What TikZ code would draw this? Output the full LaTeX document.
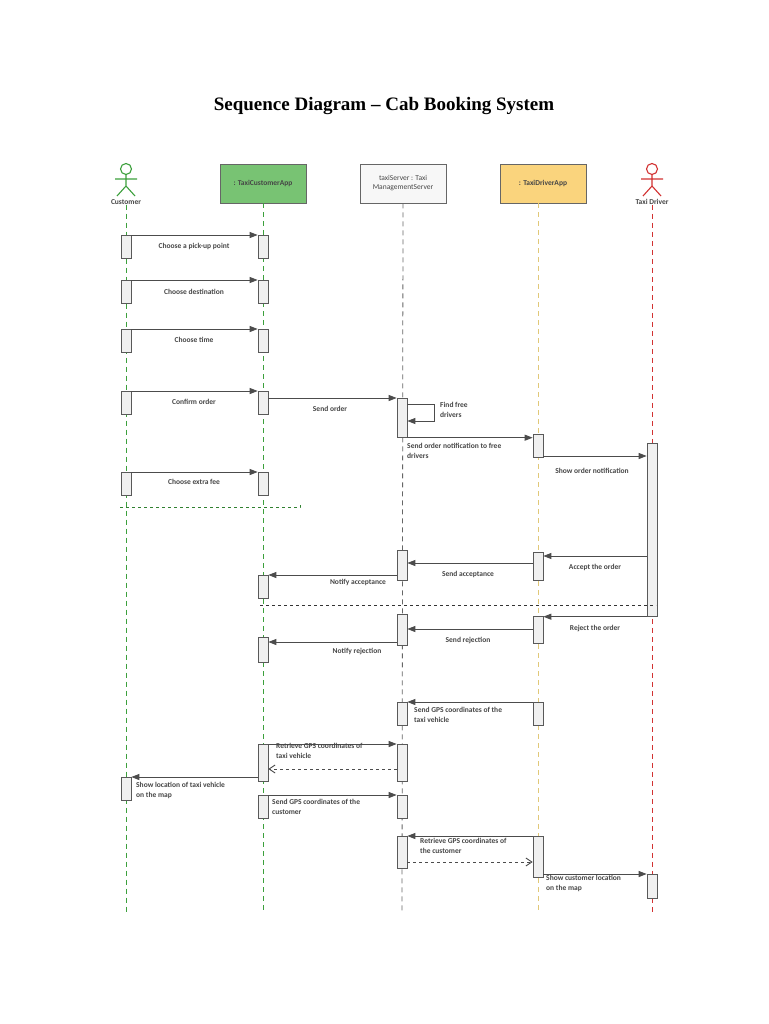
\documentclass[tikz,border=0pt]{standalone}
\usepackage{fontspec}
\setmainfont{Carlito}
\newfontfamily\titlefont{Liberation Serif}
\usetikzlibrary{arrows.meta}
\definecolor{cgreen}{RGB}{60,160,60}
\definecolor{cred}{RGB}{210,50,50}
\definecolor{cyel}{RGB}{225,200,120}
\definecolor{boxgreen}{RGB}{120,195,115}
\definecolor{boxyel}{RGB}{250,212,125}
\definecolor{txt}{RGB}{70,70,70}
\tikzset{
  act/.style={draw=black!65,fill=black!6,line width=0.7pt,minimum width=10pt,inner sep=0pt,anchor=north},
  head/.style={draw=black!60,line width=0.8pt,minimum width=86pt,minimum height=39pt,align=center,font=\fontsize{7.5}{9}\selectfont,text=txt},
  life/.style={line width=0.8pt,dash pattern=on 5pt off 4pt},
  msg/.style={draw=black!70,line width=0.9pt,-{Triangle[length=8pt,width=6pt]}},
  ret/.style={draw=black!70,line width=0.9pt,dashed,-{Straight Barb[length=6pt,width=8pt]}},
  lbl/.style={font=\bfseries\fontsize{7.5}{10}\selectfont,text=txt,inner sep=0pt,align=left},
  actor/.style={line width=1.1pt}
}
\newcommand{\act}[4]{\node[act,minimum height={(#4-#3)*1pt}] (#1) at (#2,#3) {};}
\begin{document}
\begin{tikzpicture}[x=1pt,y=-1pt]
\useasboundingbox (0,0) rectangle (768,1024);
\fill[white] (0,0) rectangle (768,1024);
\node[font=\titlefont\bfseries\fontsize{19}{22}\selectfont] (title) at (384,106) {Sequence Diagram – Cab Booking System};
% headers
\node[head,fill=boxgreen,font=\bfseries\fontsize{7.5}{9}\selectfont] (hCA) at (263,183.5) {: TaxiCustomerApp};
\node[head,fill=black!3] (hS) at (403,183.5) {taxiServer : Taxi\\ManagementServer};
\node[head,fill=boxyel,font=\bfseries\fontsize{7.5}{9}\selectfont] (hD) at (543,183.5) {: TaxiDriverApp};
% actors
\foreach \n/\x/\c/\t in {aC/126/cgreen/Customer,aT/652/cred/Taxi Driver}{
  \draw[actor,draw=\c] (\x,169) circle (5.5);
  \draw[actor,draw=\c] (\x,174.5) -- (\x,186) (\x-11,179) -- (\x+11,179) (\x-9,196) -- (\x,186) -- (\x+9,196);
  \node[lbl] (\n) at (\x,202) {\t};
}
% lifelines
\coordinate (eC) at (126,912);\coordinate (eCA) at (263,912);\coordinate (eS) at (402,912);
\coordinate (eD) at (538,912);\coordinate (eT) at (652,912);
\draw[life,draw=cgreen] (aC.south) -- (eC);
\draw[life,draw=cgreen] (hCA.south) -- (eCA);
\draw[life,draw=black!60] (hS.south) -- (eS);
\draw[life,draw=cyel] (eD |- hD.south) -- (eD);
\draw[life,draw=cred] (aT.south) -- (eT);
% activations
\act{c1}{126}{235}{258}\act{c2}{126}{280}{303}\act{c3}{126}{329}{352}
\act{c4}{126}{391}{414}\act{c5}{126}{472}{495}\act{c6}{126}{777}{800}
\act{p1}{263}{235}{258}\act{p2}{263}{280}{303}\act{p3}{263}{329}{352}
\act{p4}{263}{391}{414}\act{p5}{263}{472}{495}\act{p6}{263}{575}{598}
\act{p7}{263}{637}{662}\act{p8}{263}{744}{781}\act{p9}{263}{795}{818}
\act{s1}{402}{398}{437}\act{s2}{402}{550}{580}\act{s3}{402}{614}{645}
\act{s4}{402}{702}{725}\act{s5}{402}{744}{781}\act{s6}{402}{795}{818}\act{s7}{402}{836}{868}
\act{d1}{538}{434}{457}\act{d2}{538}{552}{580}\act{d3}{538}{616}{643}
\act{d4}{538}{702}{725}\act{d5}{538}{836}{877}
\act{t1}{652}{443}{616}\act{t2}{652}{874}{898}
% messages
\draw[msg] (c1.north east) -- (p1.north west);
\node[lbl] (l1) at (194,246) {Choose a pick-up point};
\draw[msg] (c2.north east) -- (p2.north west);
\node[lbl] (l2) at (194,292) {Choose destination};
\draw[msg] (c3.north east) -- (p3.north west);
\node[lbl] (l3) at (194,340) {Choose time};
\draw[msg] (c4.north east) -- (p4.north west);
\node[lbl] (l4) at (194,402) {Confirm order};
\draw[msg] (p4.east |- 0,398) -- (s1.north west);
\node[lbl] (l5) at (330,409) {Send order};
\draw[msg] (s1.east |- 0,404) -- (434,404) -- (434,421) -- (s1.east |- 0,421);
\node[lbl,anchor=north west] (l6) at (440,402) {Find free\\drivers};
\draw[msg] (s1.south east) -- (d1.west |- s1.south);
\node[lbl,anchor=north west] (l7) at (407,443) {Send order notification to free\\drivers};
\draw[msg] (d1.east |- 0,456) -- (t1.west |- 0,456);
\node[lbl] (l8) at (592,471) {Show order notification};
\draw[msg] (c5.north east) -- (p5.north west);
\node[lbl] (l9) at (194,482) {Choose extra fee};
\draw[dashed,draw=cgreen!80!black,line width=0.7pt] (120,507) -- (300,507) -- (300,505);
\draw[msg] (t1.west |- 0,556) -- (d2.east |- 0,556);
\node[lbl] (l10) at (595,567) {Accept the order};
\draw[msg] (d2.west |- 0,563) -- (s2.east |- 0,563);
\node[lbl] (l11) at (468,574) {Send acceptance};
\draw[msg] (s2.west |- 0,575) -- (p6.north east);
\node[lbl] (l12) at (358,582) {Notify acceptance};
\draw[dashed,draw=black!80,line width=0.7pt] (260,605) -- (656,605);
\draw[msg] (t1.south west) -- (d3.east |- t1.south);
\node[lbl] (l13) at (595,628) {Reject the order};
\draw[msg] (d3.west |- 0,629) -- (s3.east |- 0,629);
\node[lbl] (l14) at (468,640) {Send rejection};
\draw[msg] (s3.west |- 0,642) -- (p7.east |- 0,642);
\node[lbl] (l15) at (357,651) {Notify rejection};
\draw[msg] (d4.north west) -- (s4.north east);
\node[lbl,anchor=north west] (l16) at (414,707) {Send GPS coordinates of the\\taxi vehicle};
\draw[msg] (p8.north east) -- (s5.north west);
\node[lbl,anchor=north west] (l17) at (276,743) {Retrieve GPS coordinates of\\taxi vehicle};
\draw[ret] (s5.west |- 0,769) -- (p8.east |- 0,769);
\draw[msg] (p8.west |- 0,777) -- (c6.north east);
\node[lbl,anchor=north west] (l18) at (136,782) {Show location of taxi vehicle\\on the map};
\draw[msg] (p9.north east) -- (s6.north west);
\node[lbl,anchor=north west] (l19) at (272,799) {Send GPS coordinates of the\\customer};
\draw[msg] (d5.north west) -- (s7.north east);
\node[lbl,anchor=north west] (l20) at (420,838) {Retrieve GPS coordinates of\\the customer};
\draw[ret] (s7.east |- 0,862) -- (d5.west |- 0,862);
\draw[msg] (d5.east |- 0,874) -- (t2.north west);
\node[lbl,anchor=north west] (l21) at (546,875) {Show customer location\\on the map};
\end{tikzpicture}
\end{document}
